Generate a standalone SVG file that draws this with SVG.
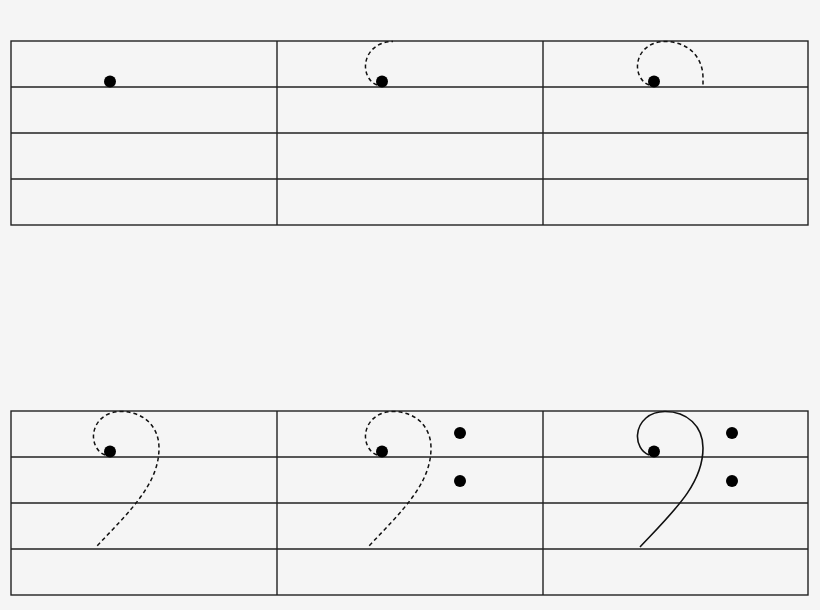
<svg xmlns="http://www.w3.org/2000/svg" width="820" height="610" viewBox="0 0 820 610">
<defs>
<style>
.grid{fill:none;stroke:#222;stroke-width:1.4}
.dot{fill:#000}
.dash{fill:none;stroke:#111;stroke-width:1.5;stroke-dasharray:4 3}
.solid{fill:none;stroke:#111;stroke-width:1.6}
</style>
<path id="clef" d="M 649,85 C 641,82 637,73 637.5,65 C 638.5,51 650,41.5 665,41.5 C 687,41.5 703,56 703,78 C 703,114 674,141 640,177"/>
</defs>
<rect width="820" height="610" fill="#f5f5f5"/>
<g id="staff-top" class="grid">
<rect x="11" y="41" width="797" height="184"/>
<path d="M11 87H808M11 133H808M11 179H808M277 41V225M543 41V225"/>
</g>
<g id="staff-bottom" class="grid">
<rect x="11" y="411" width="797" height="184"/>
<path d="M11 457H808M11 503H808M11 549H808M277 411V595M543 411V595"/>
</g>
<g id="step1"><circle class="dot" cx="110" cy="81.5" r="6"/></g>
<g id="step2">
<path class="dash" d="M 377,85 C 369,82 365,73 365.5,65 C 366.5,51 378,41.5 393,41.5"/>
<circle class="dot" cx="382" cy="81.5" r="6"/>
</g>
<g id="step3">
<path class="dash" d="M 649,85 C 641,82 637,73 637.5,65 C 638.5,51 650,41.5 665,41.5 C 687,41.5 703,56 703,78 L 703,87"/>
<circle class="dot" cx="654" cy="81.5" r="6"/>
</g>
<g id="step4">
<use href="#clef" class="dash" transform="translate(-544,370)"/>
<circle class="dot" cx="110" cy="451.5" r="6"/>
</g>
<g id="step5">
<use href="#clef" class="dash" transform="translate(-272,370)"/>
<circle class="dot" cx="382" cy="451.5" r="6"/>
<circle class="dot" cx="460" cy="433" r="6"/>
<circle class="dot" cx="460" cy="481" r="6"/>
</g>
<g id="step6">
<use href="#clef" class="solid" transform="translate(0,370)"/>
<circle class="dot" cx="654" cy="451.5" r="6"/>
<circle class="dot" cx="732" cy="433" r="6"/>
<circle class="dot" cx="732" cy="481" r="6"/>
</g>
</svg>
